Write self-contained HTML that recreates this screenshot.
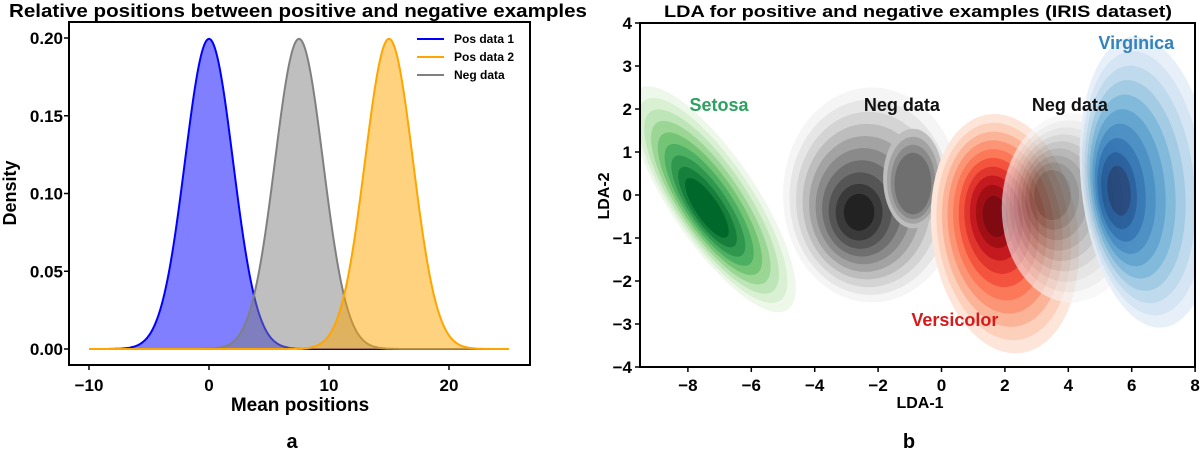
<!DOCTYPE html>
<html><head><meta charset="utf-8"><style>
body{margin:0;background:#fff;}
svg text{font-family:"Liberation Sans",sans-serif;font-weight:bold;}
</style></head><body>
<svg id="fig" width="1200" height="450" viewBox="0 0 1200 450" xmlns="http://www.w3.org/2000/svg">
<g id="left"></g>
<g id="right"></g>
</svg>
<script>
// ---- Left chart data ----
const seriesNames = ["Pos data 1","Pos data 2","Neg data"];
const seriesMeans = [0, 15, 7.5];
const seriesSigmas = [2, 2, 2];
const xRangeData = [-10, 25];
const leftXTicks = [-10, 0, 10, 20];
const leftYTicks = [0.00, 0.05, 0.10, 0.15, 0.20];
const leftYTickLabels = ["0.00","0.05","0.10","0.15","0.20"];

// ---- Right chart data ----
const rightXTicks = [-8,-6,-4,-2,0,2,4,6,8];
const rightYTicks = [-4,-3,-2,-1,0,1,2,3,4];
const blobNames = ["setosa","neg-data-1a","neg-data-1b","versicolor","neg-data-2","virginica"];
const blobCx = [-7.2, -2.2, -0.9, 2.0, 4.1, 6.5];
const blobCy = [-0.1, 0.0, 0.5, -0.9, -0.3, 0.3];
const blobRx = [4.2, 2.8, 1.3, 2.3, 2.2, 2.1];
const blobRy = [1.0, 2.5, 1.6, 2.8, 2.2, 3.4];
const blobAngle = [56, 0, 0, -8, 0, -6];
const blobCoreX = [-7.4, -2.6, -0.9, 1.7, 3.5, 5.6];
const blobCoreY = [-0.3, -0.4, 0.2, -0.5, 0.0, 0.1];
const blobLevels = [9, 10, 7, 10, 9, 10];
const blobStart = [0, 0, 3, 0, 0, 0];
const blobPalette = [0, 1, 1, 2, 1, 3];
const blobOpacity = [1, 1, 1, 1, 0.6, 0.85];
const labelTexts = ["Setosa","Neg data","Neg data","Versicolor","Virginica"];
const labelX = [-7.95, -2.45, 2.85, -0.95, 4.95];
const labelY = [1.95, 1.95, 1.95, -3.05, 3.4];
const labelColors = ["#2ca25f","#111","#111","#d7191c","#3182bd"];

const palettes = [
 ['#eef8ea','#d9f0d3','#bde5b7','#9bd694','#74c476','#4daf62','#2f974e','#157f3b','#00682a','#004d1f'],
 ['#f5f5f5','#e6e6e6','#d4d4d4','#bdbdbd','#a3a3a3','#8a8a8a','#6f6f6f','#555555','#3a3a3a','#222222'],
 ['#fee5d9','#fdd0bc','#fcb499','#fc9576','#fb7858','#f4543e','#e0352c','#c3191f','#a10f15','#7f0a12'],
 ['#e3eef9','#cfe1f2','#b5d4e9','#93c3df','#6daed5','#4b97c9','#2f7ebc','#1864aa','#0a4a90','#08306b']
];
const NS="http://www.w3.org/2000/svg";
function mk(tag, attrs, parent){const e=document.createElementNS(NS,tag);for(const k in attrs)e.setAttribute(k,attrs[k]);parent.appendChild(e);return e;}

// ===== Left chart =====
const L=document.getElementById('left');
const lx=v=>209+12*v, ly=v=>349-1555*v;
const lineCols=["#0000ff","#ffa500","#808080"];
const fillCols=["rgba(0,0,255,0.5)","rgba(255,165,0,0.5)","rgba(128,128,128,0.5)"];
function gauss(x,m,s){return Math.exp(-0.5*((x-m)/s)**2)/(s*Math.sqrt(2*Math.PI));}
const drawOrder=[0,2,1];
for(const i of drawOrder){
  let pts=[];
  for(let k=0;k<=350;k++){const x=xRangeData[0]+(xRangeData[1]-xRangeData[0])*k/350;pts.push([lx(x),ly(gauss(x,seriesMeans[i],seriesSigmas[i]))]);}
  const d="M"+pts.map(p=>p[0].toFixed(1)+","+p[1].toFixed(1)).join("L");
  const f=mk('path',{d:d+`L${lx(xRangeData[1])},${ly(0)}L${lx(xRangeData[0])},${ly(0)}Z`,fill:fillCols[i],stroke:'none'},L);
  
  
  const ln=mk('path',{d:d,fill:'none',stroke:lineCols[i],'stroke-width':2},L);
  
  
}
const lf=mk('rect',{x:69,y:22,width:461,height:343,fill:'none',stroke:'#000','stroke-width':2},L);


leftXTicks.forEach(v=>{
  mk('line',{x1:lx(v),x2:lx(v),y1:365,y2:370,stroke:'#000','stroke-width':1.5},L);
  const t=mk('text',{x:lx(v),y:391,'text-anchor':'middle','font-size':17},L);t.textContent=(v<0?'\u2212'+(-v):v);
  
  
});
leftYTicks.forEach((v,i)=>{
  mk('line',{x1:64,x2:69,y1:ly(v),y2:ly(v),stroke:'#000','stroke-width':1.5},L);
  const t=mk('text',{x:63,y:ly(v)+6,'text-anchor':'end','font-size':17},L);t.textContent=leftYTickLabels[i];
  
  
});
seriesNames.forEach((n,i)=>{
  const y=39+18*i;
  mk('line',{x1:417,x2:444,y1:y,y2:y,stroke:lineCols[i],'stroke-width':2},L);
  const t=mk('text',{x:454,y:y+4,'font-size':12},L);t.textContent=n;
  
  
});
let t;
t=mk('text',{x:298,y:17,'text-anchor':'middle','font-size':18,textLength:578,lengthAdjust:'spacingAndGlyphs'},L);t.textContent="Relative positions between positive and negative examples";

t=mk('text',{x:300,y:411,'text-anchor':'middle','font-size':19},L);t.textContent="Mean positions";

t=mk('text',{x:0,y:0,'text-anchor':'middle','font-size':18,transform:'translate(16,193) rotate(-90)'},L);t.textContent="Density";

t=mk('text',{x:292,y:448,'text-anchor':'middle','font-size':20},L);t.textContent="a";


// ===== Right chart =====
const R=document.getElementById('right');
const rx=v=>941.5+31.7*v, ry=v=>195-43*v;
const cp=mk('clipPath',{id:'rclip'},R);
mk('rect',{x:640,y:23,width:555,height:344},cp);
const plot=mk('g',{'clip-path':'url(#rclip)'},R);
blobNames.forEach((n,b)=>{
  const g=mk('g',{opacity:blobOpacity[b]},plot);
  
  
  const N=blobLevels[b], pal=palettes[blobPalette[b]];
  for(let k=blobStart[b];k<N;k++){
    const f=k/10;
    const cx=blobCx[b]+(blobCoreX[b]-blobCx[b])*Math.min(1,f*1.3);
    const cy=blobCy[b]+(blobCoreY[b]-blobCy[b])*Math.min(1,f*1.3);
    const s=1-f*0.92;
    const e=mk('ellipse',{cx:rx(cx),cy:ry(cy),rx:blobRx[b]*31.7*s,ry:blobRy[b]*43*s,fill:pal[k],
      transform:`rotate(${blobAngle[b]} ${rx(cx)} ${ry(cy)})`},g);
    
    
  }
});
const rf=mk('rect',{x:640,y:23,width:555,height:344,fill:'none',stroke:'#000','stroke-width':2},R);


rightXTicks.forEach(v=>{
  mk('line',{x1:rx(v),x2:rx(v),y1:367,y2:372,stroke:'#000','stroke-width':1.5},R);
  const t=mk('text',{x:rx(v),y:391,'text-anchor':'middle','font-size':17},R);t.textContent=(v<0?'\u2212'+(-v):v);
  
  
});
rightYTicks.forEach(v=>{
  mk('line',{x1:635,x2:640,y1:ry(v),y2:ry(v),stroke:'#000','stroke-width':1.5},R);
  const t=mk('text',{x:632,y:ry(v)+6,'text-anchor':'end','font-size':17},R);t.textContent=(v<0?'\u2212'+(-v):v);
  
  
});
labelTexts.forEach((s,i)=>{
  const t=mk('text',{x:rx(labelX[i]),y:ry(labelY[i]),'font-size':18,fill:labelColors[i]},R);t.textContent=s;
  
  
});
t=mk('text',{x:918,y:17,'text-anchor':'middle','font-size':17,textLength:508,lengthAdjust:'spacingAndGlyphs'},R);t.textContent="LDA for positive and negative examples (IRIS dataset)";

t=mk('text',{x:920,y:408,'text-anchor':'middle','font-size':16},R);t.textContent="LDA-1";

t=mk('text',{x:0,y:0,'text-anchor':'middle','font-size':16,transform:'translate(609,196) rotate(-90)'},R);t.textContent="LDA-2";

t=mk('text',{x:909,y:448,'text-anchor':'middle','font-size':20},R);t.textContent="b";

</script>
</body></html>
